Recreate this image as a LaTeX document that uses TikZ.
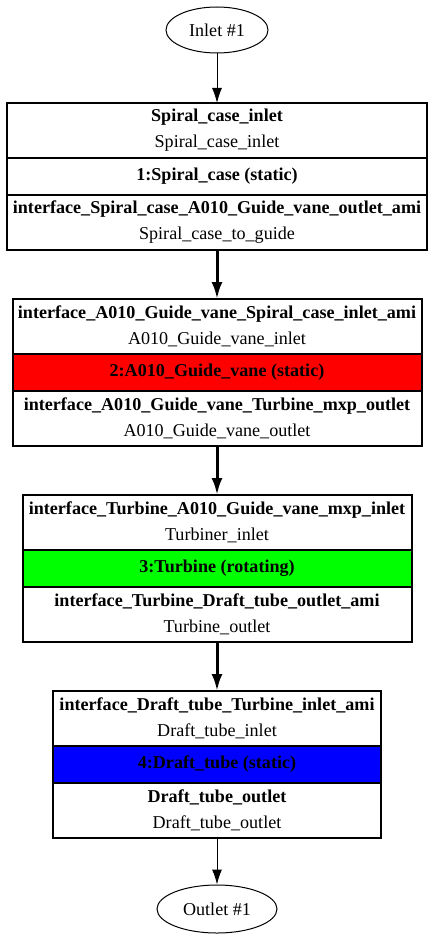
\documentclass[tikz,border=0pt]{standalone}
\usepackage{fontspec}
\setmainfont{Liberation Serif}
\usepackage{tikz}
\usetikzlibrary{arrows.meta, shapes.geometric}
\usetikzlibrary{positioning}
\tikzstyle{port} = [
    ellipse,
    draw=black,
    line width=1pt,
    inner sep=0pt,
    minimum width=102pt,
    minimum height=46pt
]
\tikzstyle{face} = [
    rectangle,
    draw=black,
    fill=white,
    line width=2pt,
    outer sep=0pt,
    inner sep=0pt,
    align=center,
    minimum height=55pt % two text lines
]
\tikzstyle{zone} = [
    face,
    font=\fontsize{18.1pt}{26pt}\selectfont\bfseries,
    minimum height=37pt
]
\tikzstyle{link} = [
    line width=1pt,
    -{Latex[length=15pt, width=10pt]}
]
\tikzstyle{flow} = [
    line width=3pt,
    -{Latex[length=17pt, width=11pt]}
]
\begin{document}
\begin{tikzpicture}[
    x=1pt, y=-1pt,
    font=\fontsize{18.1pt}{26pt}\selectfont
]
\useasboundingbox (0,0) rectangle (431,939);
\node [port] (inlet) at (217,30) {Inlet \#1};

% 1: spiral case
\node [face, minimum width=420pt, anchor=north] (sc_in) at (217,103)
    {\textbf{Spiral\_case\_inlet}\\Spiral\_case\_inlet};
\node [zone, minimum width=420pt, below=0pt of sc_in] (sc) {1:Spiral\_case (static)};
\node [face, minimum width=420pt, below=0pt of sc] (sc_out)
    {\textbf{interface\_Spiral\_case\_A010\_Guide\_vane\_outlet\_ami}\\Spiral\_case\_to\_guide};

% 2: guide vane
\node [face, minimum width=409pt, below=49pt of sc_out] (gv_in)
    {\textbf{interface\_A010\_Guide\_vane\_Spiral\_case\_inlet\_ami}\\A010\_Guide\_vane\_inlet};
\node [zone, fill=red, minimum width=409pt, below=0pt of gv_in] (gv) {2:A010\_Guide\_vane (static)};
\node [face, minimum width=409pt, below=0pt of gv] (gv_out)
    {\textbf{interface\_A010\_Guide\_vane\_Turbine\_mxp\_outlet}\\A010\_Guide\_vane\_outlet};

% 3: turbine
\node [face, minimum width=389pt, below=49pt of gv_out] (tu_in)
    {\textbf{interface\_Turbine\_A010\_Guide\_vane\_mxp\_inlet}\\Turbiner\_inlet};
\node [zone, fill=green, minimum width=389pt, below=0pt of tu_in] (tu) {3:Turbine (rotating)};
\node [face, minimum width=389pt, below=0pt of tu] (tu_out)
    {\textbf{interface\_Turbine\_Draft\_tube\_outlet\_ami}\\Turbine\_outlet};

% 4: draft tube
\node [face, minimum width=328pt, below=49pt of tu_out] (dt_in)
    {\textbf{interface\_Draft\_tube\_Turbine\_inlet\_ami}\\Draft\_tube\_inlet};
\node [zone, fill=blue, minimum width=328pt, below=0pt of dt_in] (dt) {4:Draft\_tube (static)};
\node [face, minimum width=328pt, below=0pt of dt] (dt_out)
    {\textbf{Draft\_tube\_outlet}\\Draft\_tube\_outlet};

\node [port, minimum width=120pt, minimum height=48pt] (outlet) at (217,909) {Outlet \#1};

\draw [link] (inlet) -- (sc_in);
\draw [flow] (sc_out) -- (gv_in);
\draw [flow] (gv_out) -- (tu_in);
\draw [flow] (tu_out) -- (dt_in);
\draw [link] (dt_out) -- (outlet);
\end{tikzpicture}
\end{document}
